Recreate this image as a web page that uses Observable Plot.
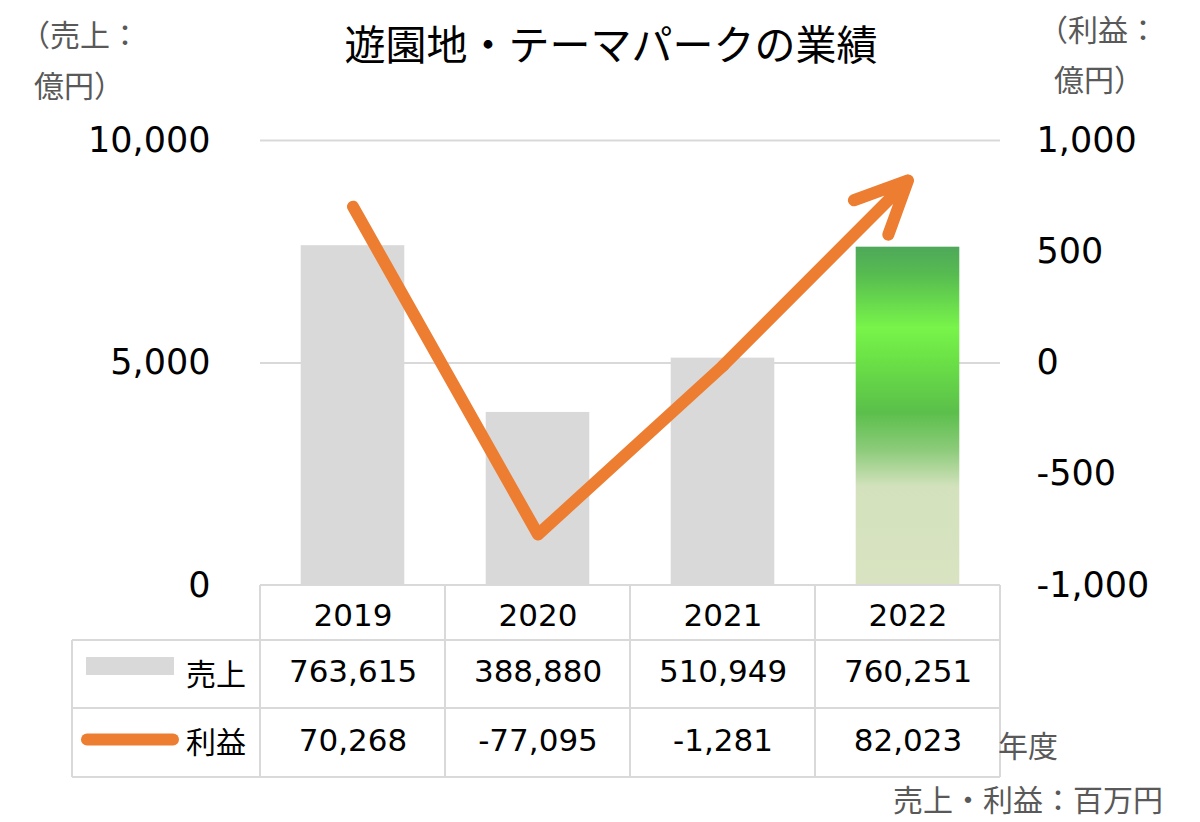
<!DOCTYPE html>
<html><head><meta charset="utf-8">
<script src="https://cdn.jsdelivr.net/npm/d3@7"></script>
<script src="https://cdn.jsdelivr.net/npm/@observablehq/plot@0.6"></script>
<style>
body{margin:0;background:#fff;}
#wrap{position:relative;width:1200px;height:822px;overflow:hidden;font-family:"Noto Sans CJK JP",sans-serif;}
#wrap svg{position:absolute;left:0;top:0;}
.lab{position:absolute;white-space:nowrap;line-height:1;}
.gray{color:#595959;}
</style></head><body>
<div id="wrap">
  <div id="chart"></div>
  <div class="lab" style="left:0;width:1222px;top:22px;text-align:center;font-size:41px;color:#000">遊園地・テーマパークの業績</div>
  <div class="lab gray" style="left:20px;top:18px;font-size:30px">（売上：</div>
  <div class="lab gray" style="left:34px;top:69px;font-size:30px">億円）</div>
  <div class="lab gray" style="left:1038px;top:13px;font-size:30px">（利益：</div>
  <div class="lab gray" style="left:1054px;top:63px;font-size:30px">億円）</div>
  <div class="lab gray" style="left:998px;top:729px;font-size:30px">年度</div>
  <div class="lab gray" style="right:37px;top:783px;font-size:30px">売上・利益：百万円</div>
</div>
<script>
// ---- data (百万円) ----
const years = ["2019", "2020", "2021", "2022"];
const sales = [763615, 388880, 510949, 760251];
const profit = [70268, -77095, -1281, 82023];
const leftTicks = [0, 5000, 10000];          // 売上（億円）
const rightTicks = [-1000, -500, 0, 500, 1000]; // 利益（億円）
const seriesNames = ["売上", "利益"];
const highlightYear = "2022";

const fmt = d3.formatLocale({decimal: ".", thousands: ",", grouping: [3], currency: ["", ""], minus: "-"}).format(",d");
const toLeft = d3.scaleLinear().domain([rightTicks[0], rightTicks[rightTicks.length - 1]]).range([leftTicks[0], leftTicks[leftTicks.length - 1]]);

const rows = years.map((year, i) => ({
  year,
  sales: sales[i],
  profit: profit[i],
  salesOku: sales[i] / 100,
  profitPos: toLeft(profit[i] / 100)
}));
const arrowSeg = [{x1: rows[2].year, y1: rows[2].profitPos, x2: rows[3].year, y2: rows[3].profitPos}];

const ORANGE = "#ED7D31", GRAY = "#D9D9D9", LINE = "#D9D9D9";

const defs = () => {
  const d = d3.create("svg:defs");
  const g = d.append("linearGradient").attr("id", "g22").attr("x1", 0).attr("y1", 0).attr("x2", 0).attr("y2", 1);
  [[0, "#4ea85a"], [0.08, "#56bb50"], [0.24, "#78f44a"], [0.34, "#6ae046"], [0.49, "#5bbf4b"], [0.6, "#8ccb7a"], [0.71, "#d3e2bd"], [1, "#d9e3c1"]]
    .forEach(([o, c]) => g.append("stop").attr("offset", o).attr("stop-color", c));
  return d.node();
};

const plot = Plot.plot({
  width: 1200,
  height: 822,
  marginLeft: 260,
  marginRight: 200,
  marginTop: 140,
  marginBottom: 237,
  style: {fontFamily: "'DejaVu Sans', 'Noto Sans CJK JP', sans-serif", fontSize: "31px", color: "#000", background: "transparent"},
  x: {type: "band", domain: years, paddingInner: 0.44, paddingOuter: 0.22, round: false},
  y: {domain: [leftTicks[0], leftTicks[leftTicks.length - 1]]},
  marks: [
    defs,
    Plot.gridY(leftTicks.filter(d => d > 0), {stroke: LINE, strokeOpacity: 1, strokeWidth: 2}),
    Plot.barY(rows.filter(d => d.year !== highlightYear), {x: "year", y: "salesOku", fill: GRAY}),
    Plot.barY(rows.filter(d => d.year === highlightYear), {x: "year", y: "salesOku", fill: "url(#g22)"}),
    Plot.line(rows.slice(0, 3), {x: "year", y: "profitPos", stroke: ORANGE, strokeWidth: 12, strokeLinecap: "round", strokeLinejoin: "round"}),
    Plot.arrow(arrowSeg, {x1: "x1", y1: "y1", x2: "x2", y2: "y2", stroke: ORANGE, strokeWidth: 12, headLength: 7.2, headAngle: 50, strokeLinecap: "round", strokeLinejoin: "round"}),
    Plot.axisY(leftTicks, {anchor: "left", tickSize: 0, tickPadding: 50, tickFormat: fmt, fontSize: 35, label: null}),
    Plot.axisY(rightTicks.map(toLeft), {anchor: "right", tickSize: 0, tickPadding: 36, tickFormat: d => fmt(Math.round(toLeft.invert(d))), fontSize: 35, label: null}),
    Plot.axisX({anchor: "bottom", tickSize: 0, tickPadding: 18, fontSize: 31, label: null}),
    Plot.text(rows, {x: "year", y: 0, text: d => fmt(d.sales), dy: 87, fontSize: 31}),
    Plot.text(rows, {x: "year", y: 0, text: d => fmt(d.profit), dy: 156, fontSize: 31})
  ]
});

// ---- data table grid & legend keys, placed with Plot's own scales ----
const sx = plot.scale("x"), sy = plot.scale("y");
const step = sx.step ?? ((sx.range[1] - sx.range[0]) / years.length);
const bw = sx.bandwidth ?? step;
const bandLeft = y => sx.apply(y) - (step - bw) / 2;
const xl = bandLeft(years[0]);
const xr = bandLeft(years[years.length - 1]) + step;
const y0 = sy.apply(0);
const rowEdges = [y0, y0 + 55, y0 + 123, y0 + 192];
const tableLeft = 72;

const svg = d3.select(plot);
const tg = svg.append("g").attr("stroke", LINE).attr("stroke-width", 2).attr("fill", "none");
tg.append("line").attr("x1", xl).attr("x2", xr).attr("y1", rowEdges[0]).attr("y2", rowEdges[0]);
rowEdges.slice(1).forEach(y => tg.append("line").attr("x1", tableLeft).attr("x2", xr).attr("y1", y).attr("y2", y));
years.map(bandLeft).concat([xr]).forEach(x => tg.append("line").attr("x1", x).attr("x2", x).attr("y1", rowEdges[0]).attr("y2", rowEdges[3]));
tg.append("line").attr("x1", tableLeft).attr("x2", tableLeft).attr("y1", rowEdges[1]).attr("y2", rowEdges[3]);

const lg = svg.append("g");
const mid1 = (rowEdges[1] + rowEdges[2]) / 2, mid2 = (rowEdges[2] + rowEdges[3]) / 2;
lg.append("rect").attr("x", 86).attr("y", mid1 - 17).attr("width", 88).attr("height", 18).attr("fill", GRAY);
lg.append("line").attr("x1", 87).attr("x2", 173).attr("y1", mid2 - 3).attr("y2", mid2 - 3)
  .attr("stroke", ORANGE).attr("stroke-width", 12).attr("stroke-linecap", "round");
[mid1, mid2].forEach((m, i) => lg.append("text").attr("x", xl - 14).attr("y", m).attr("dy", "0.36em")
  .attr("text-anchor", "end").attr("font-family", "'Noto Sans CJK JP', sans-serif").attr("font-size", 30).attr("fill", "#000").text(seriesNames[i]));

document.getElementById("chart").appendChild(plot);
</script>
</body></html>
